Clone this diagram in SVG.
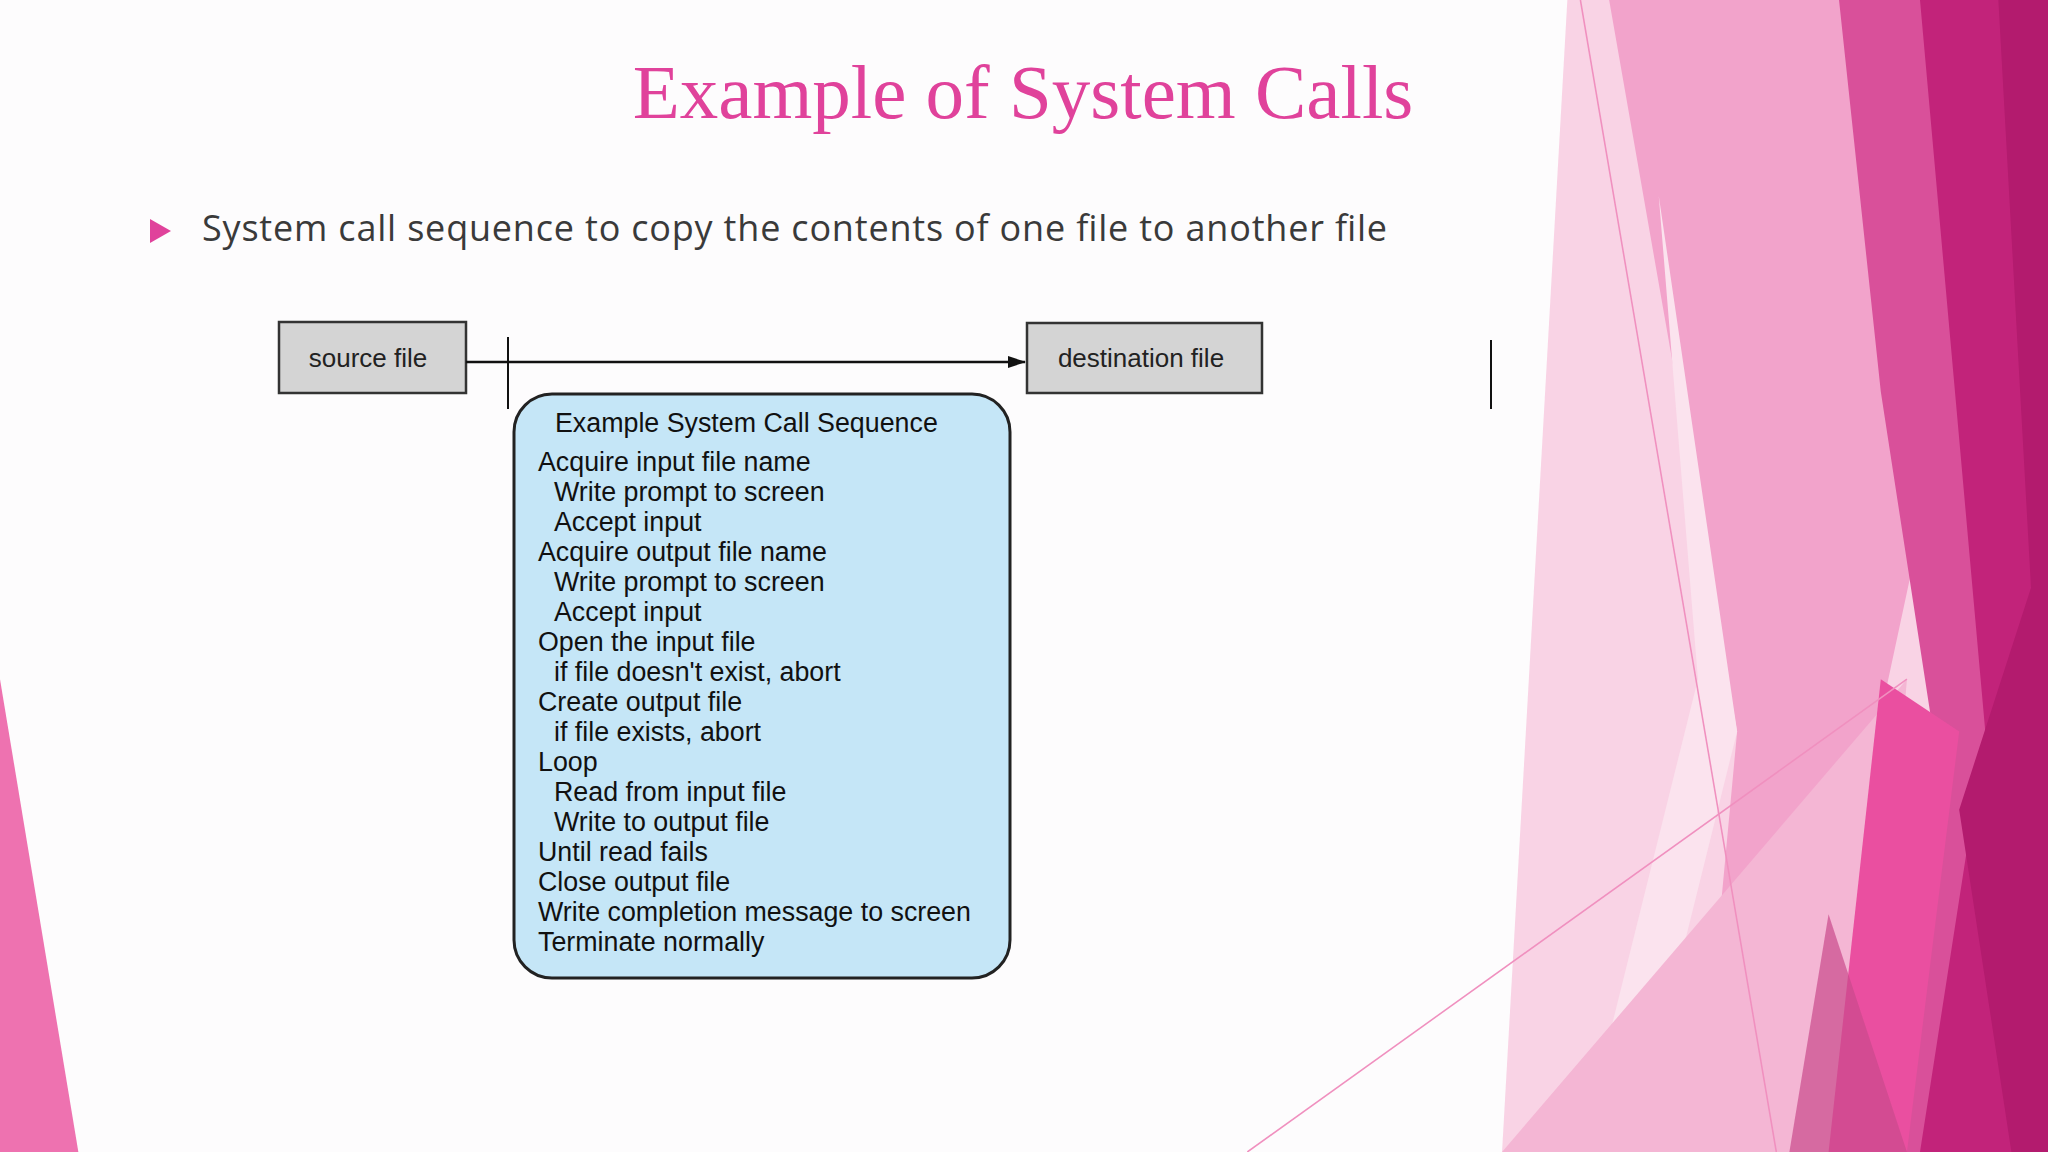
<svg xmlns="http://www.w3.org/2000/svg" width="2048" height="1152" viewBox="0 0 2048 1152">
<style>
.box{fill:#d4d4d4;stroke:#333;stroke-width:2.5}
.lbl{font-family:"Liberation Sans",Arial,sans-serif;font-size:26px;fill:#222}
.seq{font-family:"Liberation Sans",Arial,sans-serif;font-size:26.8px;fill:#111}
</style>
<defs><marker id="ah" markerWidth="18" markerHeight="12" refX="17" refY="6" orient="auto" markerUnits="userSpaceOnUse"><path d="M0,0 L18,6 L0,12 Z" fill="#111"/></marker></defs>
<rect width="2048" height="1152" fill="#fdfcfd"/>
<g id="decor" transform="scale(1.30612)">
<polygon points="1200,0 1568,0 1568,882 1150,882" fill="#f9d3e5"/>
<polygon points="1232,0 1410,0 1465,430 1420,640 1360,882 1300,882 1330,560" fill="#f2a3cb"/>
<polygon points="1270,150 1330,560 1250,882 1210,882 1300,520" fill="#fbe3ee"/>
<polygon points="1150,882 1460,520 1430,882" fill="#f4b6d4"/>
<polygon points="1408,0 1568,0 1568,882 1430,882 1480,560 1440,300" fill="#d9509a"/>
<polygon points="1440,520 1500,560 1460,882 1400,882" fill="#ea4fa0"/>
<polygon points="1470,0 1568,0 1568,882 1470,882 1520,560" fill="#c2237a"/>
<polygon points="1530,0 1568,0 1568,882 1540,882 1500,620 1555,450" fill="#b31b6e"/>
<polygon points="1400,700 1460,882 1370,882" fill="#c94a8c" opacity="0.7"/>
<line x1="1210" y1="0" x2="1360" y2="882" stroke="#f090bf" stroke-width="1.2"/>
<line x1="955" y1="882" x2="1460" y2="520" stroke="#f090bf" stroke-width="1.2"/>
<polygon points="0,520 60,882 0,882" fill="#ee72b0"/>
</g>
<text x="1023" y="118" text-anchor="middle" font-family="Liberation Serif,serif" font-size="77" fill="#e0429b">Example of System Calls</text>
<polygon points="150,219 171,231 150,243" fill="#e0429b"/>
<text x="202" y="241" font-family="Open Sans,DejaVu Sans,sans-serif" font-size="36" fill="#3a3a3a" textLength="1185" lengthAdjust="spacing">System call sequence to copy the contents of one file to another file</text>
<g id="source"><rect class="box" x="279" y="322" width="187" height="71"/><text class="lbl" x="368" y="367" text-anchor="middle">source file</text></g>
<g id="dest"><rect class="box" x="1027" y="323" width="235" height="70"/><text class="lbl" x="1141" y="367" text-anchor="middle">destination  file</text></g>
<g id="connectors">
<line x1="466" y1="362" x2="1025" y2="362" stroke="#111" stroke-width="2.5" marker-end="url(#ah)"/>
<line x1="508" y1="337" x2="508" y2="409" stroke="#111" stroke-width="2"/>
<line x1="1491" y1="340" x2="1491" y2="409" stroke="#111" stroke-width="2"/>
</g>
<g id="sequence">
<rect x="514" y="394" width="496" height="584" rx="38" fill="#c5e6f7" stroke="#222" stroke-width="3"/>
<text class="seq" x="555" y="432">Example System Call Sequence</text>
<text class="seq" x="538" y="471">Acquire input file name</text>
<text class="seq" x="554" y="501">Write prompt to screen</text>
<text class="seq" x="554" y="531">Accept input</text>
<text class="seq" x="538" y="561">Acquire output file name</text>
<text class="seq" x="554" y="591">Write prompt to screen</text>
<text class="seq" x="554" y="621">Accept input</text>
<text class="seq" x="538" y="651">Open the input file</text>
<text class="seq" x="554" y="681">if file doesn't exist, abort</text>
<text class="seq" x="538" y="711">Create output file</text>
<text class="seq" x="554" y="741">if file exists, abort</text>
<text class="seq" x="538" y="771">Loop</text>
<text class="seq" x="554" y="801">Read from input file</text>
<text class="seq" x="554" y="831">Write to output file</text>
<text class="seq" x="538" y="861">Until read fails</text>
<text class="seq" x="538" y="891">Close output file</text>
<text class="seq" x="538" y="921">Write completion message to screen</text>
<text class="seq" x="538" y="951">Terminate normally</text>
</g>
</svg>
